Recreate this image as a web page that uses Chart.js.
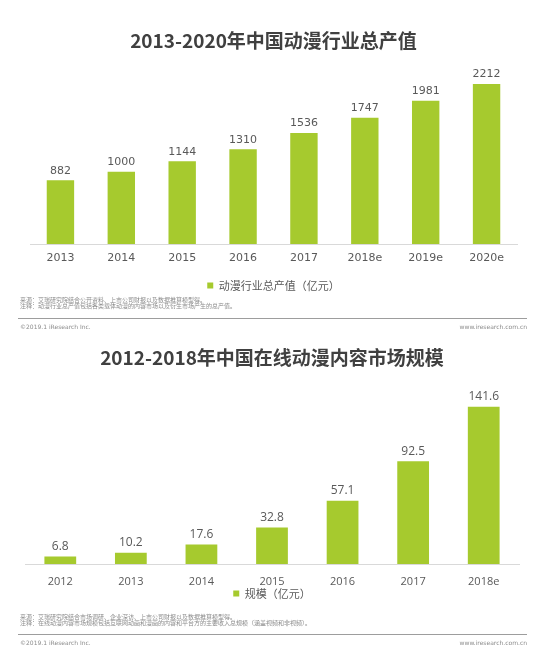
<!DOCTYPE html>
<html>
<head>
<meta charset="utf-8">
<script src="https://cdn.jsdelivr.net/npm/chart.js@4"></script>
<style>
  html, body { margin: 0; padding: 0; background: #fff; }
  body { width: 544px; height: 664px; position: relative; overflow: hidden; font-family: "Noto Sans CJK SC", sans-serif; }
  .box { position: absolute; left: 0; width: 544px; }
  .note { position: absolute; left: 20px; font-size: 6px; line-height: 6px; color: #8c8c8c; white-space: nowrap; }
  .rule { position: absolute; left: 18px; width: 509px; height: 1px; background: #9d9d9d; }
  .foot { position: absolute; font-size: 6px; line-height: 6px; color: #8c8c8c; font-family: "DejaVu Sans", sans-serif; }
</style>
</head>
<body>
<div class="box" style="top:0;height:301px"><canvas id="chart1"></canvas></div>
<div class="note" style="top:297px">来源：艾瑞研究院结合公开资料、上市公司财报以及数据推算模型得。<br>注释：动漫行业总产值包括各类载体动漫的内容市场以及衍生市场产生的总产值。</div>
<div class="rule" style="top:318px"></div>
<div class="foot" style="top:324px;left:20px">©2019.1 iResearch Inc.</div>
<div class="foot" style="top:324px;right:17px">www.iresearch.com.cn</div>

<div class="box" style="top:330px;height:279px"><canvas id="chart2"></canvas></div>
<div class="note" style="top:614px">来源：艾瑞研究院结合市场调研、企业深访、上市公司财报以及数据推算模型得。<br>注释：在线动漫内容市场规模包括互联网动画和漫画的内容和平台方的主要收入总规模（涵盖视频和非视频）。</div>
<div class="rule" style="top:634px"></div>
<div class="foot" style="top:640px;left:20px">©2019.1 iResearch Inc.</div>
<div class="foot" style="top:640px;right:17px">www.iresearch.com.cn</div>

<script>
// chart 1: total output of China's animation industry
const years1 = ['2013', '2014', '2015', '2016', '2017', '2018e', '2019e', '2020e'];
const output1 = [882, 1000, 1144, 1310, 1536, 1747, 1981, 2212];

// chart 2: online animation content market size
const years2 = ['2012', '2013', '2014', '2015', '2016', '2017', '2018e'];
const market2 = [6.8, 10.2, 17.6, 32.8, 57.1, 92.5, 141.6];

const green = '#a6ca2e';

// draws the value above every bar
const valueLabels = {
    id: 'valueLabels',
    afterDatasetsDraw(chart, args, opts) {
        const ctx = chart.ctx;
        ctx.save();
        ctx.font = opts.font;
        ctx.fillStyle = '#595959';
        ctx.textAlign = 'center';
        ctx.textBaseline = 'bottom';
        chart.data.datasets.forEach((ds, i) => {
            chart.getDatasetMeta(i).data.forEach((bar, j) => {
                ctx.fillText(String(ds.data[j]), bar.x, bar.y - opts.offset);
            });
        });
        ctx.restore();
    }
};

function makeChart(id, cfg) {
    return new Chart(document.getElementById(id), {
        type: 'bar',
        data: {
            labels: cfg.labels,
            datasets: [{
                label: cfg.label,
                data: cfg.values,
                backgroundColor: green,
                barPercentage: 0.45,
                categoryPercentage: 1.0
            }]
        },
        options: {
            responsive: true,
            maintainAspectRatio: false,
            animation: false,
            layout: { padding: { left: cfg.left, right: cfg.right, top: 0, bottom: 0 } },
            plugins: {
                title: {
                    display: true,
                    text: cfg.title,
                    color: '#404040',
                    font: { family: '"Noto Sans CJK SC", sans-serif', size: 19, weight: 'bold', lineHeight: 1.2 },
                    padding: cfg.titlePad
                },
                legend: {
                    position: 'bottom',
                    labels: {
                        boxWidth: 6,
                        boxHeight: 6,
                        color: '#595959',
                        padding: cfg.legendPad,
                        font: { family: '"Noto Sans CJK SC", sans-serif', size: 11, lineHeight: 1 }
                    }
                },
                tooltip: { enabled: false },
                valueLabels: { font: cfg.valueFont, offset: 4 }
            },
            scales: {
                x: {
                    grid: { display: false, tickLength: cfg.tickLength },
                    border: { display: true, color: '#d9d9d9', width: 1 },
                    ticks: { color: '#595959', font: cfg.tickFont, padding: cfg.tickPad }
                },
                y: {
                    display: false,
                    min: 0,
                    max: cfg.yMax
                }
            }
        },
        plugins: [valueLabels]
    });
}

makeChart('chart1', {
    labels: years1, values: output1, label: '动漫行业总产值（亿元）', yMax: 2400,
    title: '2013-2020年中国动漫行业总产值', titlePad: { top: 29.6, bottom: 18 },
    left: 30, right: 27,
    tickFont: { family: '"DejaVu Sans", sans-serif', size: 11, lineHeight: 1 },
    valueFont: '11px "DejaVu Sans", sans-serif',
    tickLength: 8, tickPad: 1, legendPad: 15
});

makeChart('chart2', {
    labels: years2, values: market2, label: '规模（亿元）', yMax: 155,
    title: '2012-2018年中国在线动漫内容市场规模', titlePad: { top: 16.6, bottom: 22.6 },
    left: 25, right: 25,
    tickFont: { family: '"Open Sans", sans-serif', size: 11, lineHeight: 1 },
    valueFont: '12px "Open Sans", sans-serif',
    tickLength: 12, tickPad: 0, legendPad: 1
});
</script>
</body>
</html>
